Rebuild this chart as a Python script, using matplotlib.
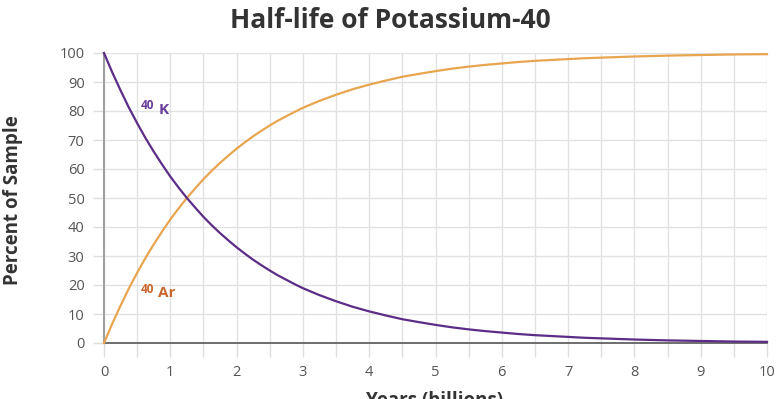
import matplotlib
matplotlib.use("Agg")
import matplotlib.pyplot as plt
from matplotlib.ticker import MultipleLocator

years = [0, 0.125, 0.25, 0.375, 0.5, 0.625, 0.75, 0.875, 1.0, 1.125,
         1.25, 1.375, 1.5, 1.625, 1.75, 1.875, 2.0, 2.125, 2.25, 2.375,
         2.5, 2.625, 2.75, 2.875, 3.0, 3.25, 3.5, 3.75, 4.0, 4.25,
         4.5, 4.75, 5.0, 5.25, 5.5, 5.75, 6.0, 6.25, 6.5, 6.75,
         7.0, 7.25, 7.5, 7.75, 8.0, 8.5, 9.0, 9.5, 10.0]
potassium = [100, 93.3, 87.1, 81.2, 75.8, 70.7, 66.0, 61.6, 57.4, 53.6,
             50.0, 46.7, 43.5, 40.6, 37.9, 35.4, 33.0, 30.8, 28.7, 26.8,
             25.0, 23.3, 21.8, 20.3, 18.9, 16.5, 14.4, 12.5, 10.9, 9.5,
             8.2, 7.2, 6.25, 5.4, 4.7, 4.1, 3.6, 3.1, 2.7, 2.4,
             2.1, 1.8, 1.6, 1.4, 1.2, 0.9, 0.7, 0.5, 0.4]
argon = [0, 6.7, 12.9, 18.8, 24.2, 29.3, 34.0, 38.4, 42.6, 46.4,
         50.0, 53.3, 56.5, 59.4, 62.1, 64.6, 67.0, 69.2, 71.3, 73.2,
         75.0, 76.7, 78.2, 79.7, 81.1, 83.5, 85.6, 87.5, 89.1, 90.5,
         91.8, 92.8, 93.75, 94.6, 95.3, 95.9, 96.4, 96.9, 97.3, 97.6,
         97.9, 98.2, 98.4, 98.6, 98.8, 99.1, 99.3, 99.5, 99.6]

title = "Half-life of Potassium-40"
xlabel = "Years (billions)"
ylabel = "Percent of Sample"

plt.rcParams['font.family'] = ['Open Sans', 'DejaVu Sans']

fig = plt.figure(figsize=(7.82, 3.99), dpi=100)
ax = fig.add_axes([104/782, 1 - 343/399, (767-104)/782, (343-53)/399])

ax.plot(years, argon, color='#e8a550', lw=1.6, zorder=3, clip_on=False)
ax.plot(years, potassium, color='#5b2d86', lw=1.6, zorder=4, clip_on=False)

ax.set_xlim(0, 10)
ax.set_ylim(0, 100)
ax.xaxis.set_major_locator(MultipleLocator(1))
ax.xaxis.set_minor_locator(MultipleLocator(0.5))
ax.yaxis.set_major_locator(MultipleLocator(10))
ax.grid(True, which='both', axis='x', color='#e2e2e2', lw=1)
ax.grid(True, which='major', axis='y', color='#e2e2e2', lw=1)
ax.set_axisbelow(True)

for s in ['top', 'right']:
    ax.spines[s].set_visible(False)
ax.spines['left'].set_color('#a0a0a0')
ax.spines['left'].set_linewidth(1.5)
ax.spines['bottom'].set_color('#555555')
ax.spines['bottom'].set_linewidth(1.2)

ax.tick_params(axis='x', which='both', length=10, color='#dddddd', width=1,
               labelsize=10.5, labelcolor='#555555', pad=6)
ax.tick_params(axis='y', length=8, color='#dddddd', width=1,
               labelsize=10.5, labelcolor='#555555', pad=6)

fig.text(390/782, 1 - 20/399, title, ha='center', va='center',
         fontsize=19, fontweight='bold', color='#333333')
fig.text(13/782, 1 - 200/399, ylabel, ha='center', va='center', rotation=90,
         fontsize=13.5, fontweight='bold', color='#333333')
fig.text(435/782, 1 - 401/399, xlabel, ha='center', va='center',
         fontsize=13.5, fontweight='bold', color='#333333')

ax.text(0.66, 82.0, "40", fontsize=8.5, fontweight='bold', color='#6a3d9a', ha='center', va='center')
ax.text(0.90, 80.3, "K", fontsize=11, fontweight='bold', color='#6a3d9a', ha='center', va='center')
ax.text(0.66, 18.6, "40", fontsize=8.5, fontweight='bold', color='#c8682e', ha='center', va='center')
ax.text(0.94, 17.2, "Ar", fontsize=11, fontweight='bold', color='#c8682e', ha='center', va='center')

fig.savefig("out.png", dpi=100)
